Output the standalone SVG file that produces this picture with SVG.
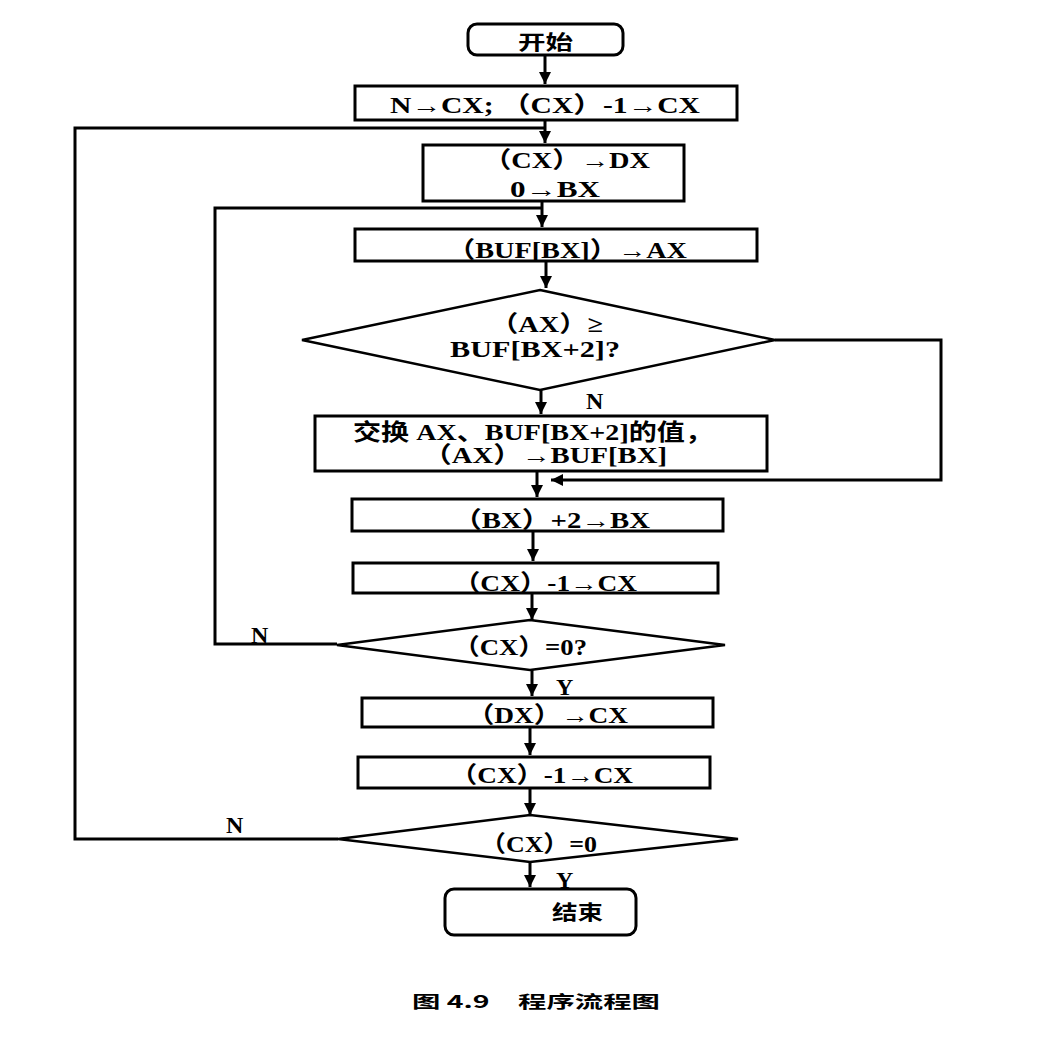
<svg xmlns="http://www.w3.org/2000/svg" width="1044" height="1051" viewBox="0 0 1044 1051">
<style>
.box{fill:#fff;stroke:#000;stroke-width:3}
.dia{fill:#fff;stroke:#000;stroke-width:2.5}
.ln{fill:none;stroke:#000;stroke-width:3}
.t{font-family:"Liberation Serif","Noto Sans CJK SC",serif;font-size:23px;font-weight:bold;fill:#000}
.c{font-family:"Noto Sans CJK SC",sans-serif;font-size:20px;font-weight:bold;fill:#000}
.l{font-family:"Liberation Serif",serif;font-size:24px;font-weight:bold;fill:#000}
.cap{font-family:"Noto Sans CJK SC",sans-serif;font-size:17px;font-weight:bold;fill:#000}
</style>
<defs>
<marker id="ah" viewBox="0 0 10 10" refX="10" refY="5" markerWidth="4" markerHeight="4" orient="auto" markerUnits="strokeWidth">
<path d="M0,0 L10,5 L0,10 Z" fill="#000"/>
</marker>
</defs>
<rect width="1044" height="1051" fill="#fff"/>
<g id="connectors">
<line class="ln" x1="545" y1="55" x2="545" y2="84" marker-end="url(#ah)"/>
<line class="ln" x1="545" y1="120" x2="545" y2="143" marker-end="url(#ah)"/>
<polyline class="ln" points="338,839 75,839 75,128 545,128"/>
<line class="ln" x1="542" y1="201" x2="542" y2="227" marker-end="url(#ah)"/>
<polyline class="ln" points="337,644 215,644 215,208 542,208"/>
<line class="ln" x1="546" y1="261" x2="546" y2="288" marker-end="url(#ah)"/>
<line class="ln" x1="541" y1="390" x2="541" y2="414" marker-end="url(#ah)"/>
<polyline class="ln" points="775,340 941,340 941,480 551,480" marker-end="url(#ah)"/>
<line class="ln" x1="537" y1="471" x2="537" y2="497" marker-end="url(#ah)"/>
<line class="ln" x1="533" y1="531" x2="533" y2="561" marker-end="url(#ah)"/>
<line class="ln" x1="532" y1="593" x2="532" y2="620" marker-end="url(#ah)"/>
<line class="ln" x1="532" y1="670" x2="532" y2="696" marker-end="url(#ah)"/>
<line class="ln" x1="530" y1="727" x2="530" y2="755" marker-end="url(#ah)"/>
<line class="ln" x1="530" y1="788" x2="530" y2="815" marker-end="url(#ah)"/>
<line class="ln" x1="530" y1="862" x2="530" y2="887" marker-end="url(#ah)"/>
<text class="l" x="586" y="409">N</text>
<text class="l" x="251" y="643">N</text>
<text class="l" x="556" y="695">Y</text>
<text class="l" x="226" y="833">N</text>
<text class="l" x="556" y="888">Y</text>
</g>
<g id="start">
<rect class="box" x="468" y="24" width="155" height="31" rx="9"/>
<text class="c" x="518" y="50" textLength="55" lengthAdjust="spacingAndGlyphs">开始</text>
</g>
<g id="init">
<rect class="box" x="355" y="86" width="382" height="34"/>
<text class="t" x="390" y="113" textLength="310" lengthAdjust="spacingAndGlyphs">N→CX; （CX）-1→CX</text>
</g>
<g id="outer">
<rect class="box" x="423" y="145" width="261" height="56"/>
<text class="t" x="483" y="168" textLength="167" lengthAdjust="spacingAndGlyphs">（CX）→DX</text>
<text class="t" x="510" y="197" textLength="90" lengthAdjust="spacingAndGlyphs">0→BX</text>
</g>
<g id="load">
<rect class="box" x="355" y="229" width="402" height="32"/>
<text class="t" x="447" y="258" textLength="240" lengthAdjust="spacingAndGlyphs">（BUF[BX]）→AX</text>
</g>
<g id="cmp">
<polygon class="dia" points="540,290 775,340 540,390 302,340"/>
<text class="t" x="490" y="332" textLength="113" lengthAdjust="spacingAndGlyphs">（AX）≥</text>
<text class="t" x="450" y="357" textLength="170" lengthAdjust="spacingAndGlyphs">BUF[BX+2]?</text>
</g>
<g id="swap">
<rect class="box" x="315" y="416" width="452" height="55"/>
<text class="t" x="353" y="440" textLength="360" lengthAdjust="spacingAndGlyphs">交换 AX、BUF[BX+2]的值，</text>
<text class="t" x="423" y="463" textLength="244" lengthAdjust="spacingAndGlyphs">（AX）→BUF[BX]</text>
</g>
<g id="incbx">
<rect class="box" x="352" y="499" width="371" height="32"/>
<text class="t" x="453" y="528" textLength="197" lengthAdjust="spacingAndGlyphs">（BX）+2→BX</text>
</g>
<g id="deccx1">
<rect class="box" x="353" y="563" width="365" height="30"/>
<text class="t" x="453" y="591" textLength="184" lengthAdjust="spacingAndGlyphs">（CX）-1→CX</text>
</g>
<g id="test1">
<polygon class="dia" points="530,620 725,645 530,670 337,645"/>
<text class="t" x="453" y="655" textLength="134" lengthAdjust="spacingAndGlyphs">（CX）=0?</text>
</g>
<g id="restore">
<rect class="box" x="362" y="698" width="351" height="29"/>
<text class="t" x="467" y="723" textLength="161" lengthAdjust="spacingAndGlyphs">（DX）→CX</text>
</g>
<g id="deccx2">
<rect class="box" x="358" y="757" width="352" height="31"/>
<text class="t" x="450" y="783" textLength="183" lengthAdjust="spacingAndGlyphs">（CX）-1→CX</text>
</g>
<g id="test2">
<polygon class="dia" points="530,815 738,839 530,862 338,839"/>
<text class="t" x="480" y="852" textLength="117" lengthAdjust="spacingAndGlyphs">（CX）=0</text>
</g>
<g id="end">
<rect class="box" x="445" y="889" width="191" height="46" rx="9"/>
<text class="c" x="552" y="920" textLength="51" lengthAdjust="spacingAndGlyphs">结束</text>
</g>
<text class="cap" x="412" y="1008" textLength="248" lengthAdjust="spacingAndGlyphs">图 4.9　程序流程图</text>
</svg>
